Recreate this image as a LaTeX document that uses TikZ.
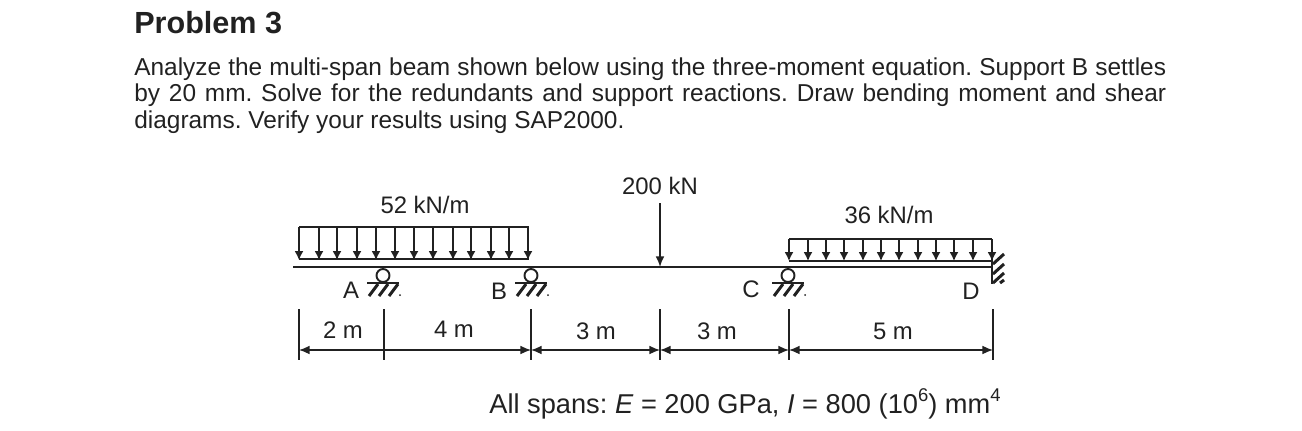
\documentclass[tikz,border=0pt]{standalone}
\usepackage{fontspec}
\setmainfont{Liberation Sans}
\usetikzlibrary{arrows.meta}
\definecolor{ink}{gray}{0.13}
\tikzset{
  beamline/.style={line width=1.7pt, ink},
  loadarrow/.style={line width=0.8pt, ink, -{Latex[length=5pt,width=5pt]}},
  loadbox/.style={line width=0.8pt, ink},
  dimline/.style={line width=0.8pt, ink, {Latex[length=6pt,width=5pt]}-{Latex[length=6pt,width=5pt]}},
  dimtick/.style={line width=0.7pt, ink},
  hatch/.style={line width=1.7pt, ink},
  lbl/.style={font=\fontsize{13.6}{15}\selectfont, text=ink, inner sep=0pt}
}
\newcommand{\supsmall}[1]{\raisebox{0.42em}{\fontsize{10.5}{11}\selectfont #1}}
\begin{document}
\begin{tikzpicture}[x=0.02cm,y=-0.02cm]
\useasboundingbox (0,0) rectangle (1302,430);

% Titulo e enunciado
\node[anchor=base west, inner sep=0pt, text=ink, font=\bfseries\fontsize{17.4}{20}\selectfont] (title) at (134,33) {Problem 3};
\node[anchor=base west, inner sep=0pt, text=ink, text width=20.64cm, align=justify, font=\fontsize{13.9}{15.3}\selectfont] (body) at (134,75)
  {\frenchspacing Analyze the multi-span beam shown below using the three-moment equation. Support B settles by 20 mm. Solve for the redundants and support reactions. Draw bending moment and shear diagrams. Verify your results using SAP2000.};

% Viga
\coordinate (beamL) at (293,267);
\coordinate (beamR) at (992,267);
\draw[beamline] (beamL) -- (beamR);

% Carga distribuida esquerda
\draw[loadbox] (299,227) -- (529,227);
\draw[loadbox] (299,259) -- (529,259);
\foreach \x in {299,319,337,357,376,395,414,433,453,471,491,509,528}
  \draw[loadarrow] (\x,227) -- (\x,260);
\node[lbl] (loadA) at (425,205) {52 kN/m};

% Carga distribuida direita
\draw[loadbox] (789,239) -- (992,239);
\draw[loadbox] (789,261) -- (992,261);
\foreach \x in {789,808,826,844,863,881,899,918,936,954,973,992}
  \draw[loadarrow] (\x,239) -- (\x,261);
\node[lbl] (loadB) at (889,215) {36 kN/m};

% Carga pontual
\node[lbl] (force) at (660,186) {200 kN};
\coordinate (forceT) at (660,203);
\coordinate (forceB) at (660,267);
\draw[line width=1pt, ink, -{Latex[length=6pt,width=5pt]}] (forceT) -- (forceB);

% Apoios moveis
\foreach \x/\name in {383/A,531/B,788/C} {
  \draw[line width=1.1pt, ink] (\x,275.5) circle (6.5);
  \draw[line width=1.3pt, ink] (\x-16,283) -- (\x+16,283);
  \foreach \d in {-10,0,10}
    \draw[hatch] (\x+\d+5,284) -- (\x+\d-4,296);
  \fill[ink] (\x+17,295) circle (1);
}
\node[lbl] (supA) at (351,290) {A};
\node[lbl] (supB) at (499,291) {B};
\node[lbl] (supC) at (751,289) {C};
\node[lbl] (supD) at (971,291) {D};

% Engaste
\draw[line width=1.3pt, ink] (992,257) -- (992,284);
\foreach \y in {260,270,279}
  \draw[hatch] (993,\y+4) -- (1004,\y-6);
\draw[hatch] (1000,283) -- (1004,280);

% Cotas
\foreach \x in {299,384,531,660,789,993}
  \draw[dimtick] (\x,309) -- (\x,360);
\coordinate (d1) at (299,350);
\coordinate (d2) at (531,350);
\coordinate (d3) at (660,350);
\coordinate (d4) at (789,350);
\coordinate (d5) at (993,350);
\draw[dimline] (d1) -- (d2);
\draw[dimline] (d2) -- (d3);
\draw[dimline] (d3) -- (d4);
\draw[dimline] (d4) -- (d5);
\node[lbl] (dimA) at (343,330) {2 m};
\node[lbl] (dimB) at (454,329) {4 m};
\node[lbl] (dimC) at (596,331) {3 m};
\node[lbl] (dimD) at (717,331) {3 m};
\node[lbl] (dimE) at (893,331) {5 m};

\node[lbl, font=\fontsize{15.5}{17}\selectfont\frenchspacing] (note) at (745,404) {All spans: \emph{E} = 200 GPa, \emph{I} = 800 (10\supsmall{6}) mm\supsmall{4}};
\end{tikzpicture}
\end{document}
